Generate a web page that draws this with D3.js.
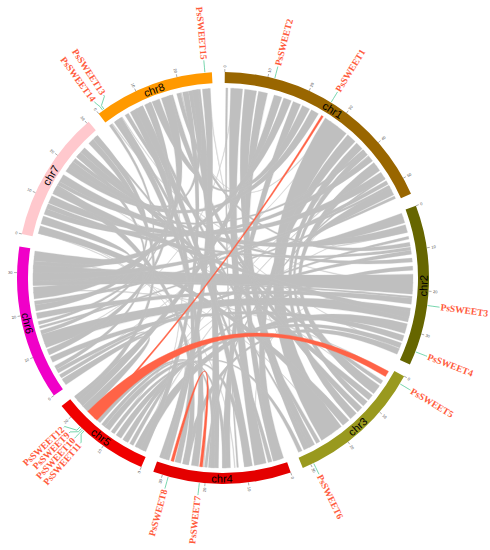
<!DOCTYPE html>
<html><head><meta charset="utf-8">
<script src="https://cdn.jsdelivr.net/npm/d3@7"></script>
<style>body{margin:0;background:#fff}svg{display:block}</style>
</head><body>
<svg id="chart" width="490" height="550"></svg>
<script>
// ---------- data ----------
const chromosomes = ["chr1","chr2","chr3","chr4","chr5","chr6","chr7","chr8"];
const chromLengths = [54, 37.5, 32, 32.2, 23.3, 36, 30.5, 28.1]; // Mb
const chromColors = ["rgb(153,102,0)","rgb(102,102,0)","rgb(153,153,30)","rgb(228,0,0)",
                     "rgb(240,0,0)","rgb(240,0,200)","rgb(255,200,205)","rgb(255,153,0)"];
const tickStep = 10;

const geneNames = ["PsSWEET1","PsSWEET2","PsSWEET3","PsSWEET4","PsSWEET5","PsSWEET6","PsSWEET7","PsSWEET8",
                   "PsSWEET9","PsSWEET10","PsSWEET11","PsSWEET12","PsSWEET13","PsSWEET14","PsSWEET15"];
const geneChrom = [1,1,2,2,3,3,4,4,5,5,5,5,8,8,8];
const genePos   = [25.7,11.6,23.3,34.3,2.0,29.3,21.3,28.6,16.4,16.0,15.6,16.9,1.6,1.2,26.5];

// synteny links: [chrA, startA, endA, chrB, startB, endB]
const grayLinks = [
 [1,0.3,0.8,4,12,12.4],[1,1.5,4.5,4,5,8],[1,5,8,3,27,30],[1,8.5,10.8,4,1,3.2],
 [1,12.5,14.5,5,20,22],[1,15,17,6,31,33],[1,17.5,19.5,4,14,16],[1,20,22,8,12.5,14.5],
 [1,22.5,24.5,7,18,20],[1,26.5,33,3,19,25],[1,33.5,36,4,0.5,3],[1,36.5,38.5,3,14,16],
 [1,39,40.5,3,10,11.5],[1,41,42.5,7,6,7.5],[1,43,45.5,3,5,7.5],[1,46,48,7,9,11],
 [1,48.5,49.5,6,22,23],[1,50,52.5,2,0.5,3],[1,52.8,53.5,6,16,16.6],[1,28,28.3,8,20,20.3],
 [1,44,44.3,5,3,3.3],
 [2,3.5,5.5,7,15,17],[2,6.5,7.2,6,1.5,2.2],[2,8,9,8,19,20],[2,10,11,6,4,5],
 [2,12,13,7,21,22],[2,14,15,5,6,7],[2,16,21,6,27,32],[2,22,23.5,6,18.5,20],
 [2,24.5,28,6,11,14.5],[2,28.5,31,5,1,3.5],[2,31.5,33,6,7,8.5],[2,35,36.5,4,24.5,26],
 [2,18,18.3,8,1,1.3],
 [3,3.5,4.5,8,5,6],[3,8,9.5,7,24,25.5],[3,12,13.5,8,16.5,18],[3,16.5,18.5,7,1,3],
 [3,25.5,26.5,8,9,10],[3,30.5,31.5,5,9.5,10.5],[3,1,1.3,6,25,25.3],[3,28,28.6,7,29,29.6],
 [4,3.5,4.5,8,3,4],[4,9,10.5,5,11,12.5],[4,17,19.5,8,22,25],[4,22,23.8,8,2,3.8],
 [4,24.5,26,7,12,14],[4,26.5,28,8,6.5,8.5],[4,29.5,31.8,8,25.5,27.5],[4,19.8,20.5,1,47.5,48],
 [5,4,5,4,30,31],[5,7.5,9,2,33.5,34.8],[5,12.5,13.5,4,18,19],[5,18,20,6,0.5,2],
 [5,21.5,23,7,27,28.5],
 [6,9,10.5,8,10.5,12],[6,14.5,15.5,8,0.3,1],[6,20.5,22,7,28.5,30],[6,23.5,26.5,8,15,17.5],
 [6,33,35.5,7,3.5,5.5],[6,5,6,7,22.5,23.5],
 [7,7.5,8.8,2,9.2,10],[7,19.5,21,8,23,24.5],
 [8,8,10,4,8.5,10.5],[8,20.5,22,5,0.5,2],[7,11.5,13.5,2,25.5,27],[7,14,15,1,38.8,39.5],
 [6,28,30,1,49.8,50.5],[6,26.8,28,2,21.5,22],
 [7,22.5,24,8,1.8,3],[5,14,15,4,15,16],[5,5.5,6.5,4,31,32],[6,2.5,3.5,5,22.5,23.2],
 [1,51,51.3,2,5,5.3],[8,11.5,12.3,6,17,17.8],
 [1,30,30.2,6,3,3.2],[2,1.5,1.7,5,12,12.2],[3,20,20.2,8,27,27.2],[4,12.8,13,7,1,1.2],
 [5,2,2.2,8,11,11.2],[6,12,12.2,1,2,2.2],[7,16.5,16.7,3,5.5,5.7],[8,4,4.2,2,35,35.2],
 [3,22,22.2,6,34,34.2],[4,6,6.2,2,20,20.2],[5,10,10.2,1,40.8,41],[7,2,2.2,4,20.6,20.8]
];
const redLinks = [
 [1,25.4,25.9,5,15.5,16.0],
 [3,0.8,2.3,5,15.0,18.2],
 [4,21.0,21.7,4,28.3,29.0]
];

// ---------- layout ----------
const W = 490, H = 550, cx = 223, cy = 278;
const rOuter = 206, rInner = 195, rLink = 190;
const gapDeg = 3.6, startDeg = 0.5;
const totalLen = d3.sum(chromLengths);
const degPerMb = (360 - gapDeg * chromosomes.length) / totalLen;
const toRad = Math.PI / 180;

const chromStart = [];
{ let a = startDeg; chromLengths.forEach((L,i)=>{ chromStart.push(a); a += L*degPerMb + gapDeg; }); }
const chromScales = chromLengths.map((L,i)=> d3.scaleLinear().domain([0,L]).range([chromStart[i], chromStart[i]+L*degPerMb]));
const angDeg = (c,p) => chromScales[c-1](p);
const angRad = (c,p) => angDeg(c,p) * toRad;

const svg = d3.select("#chart");
const g = svg.append("g").attr("transform", `translate(${cx},${cy})`);

// links
const ribbon = d3.ribbon().radius(rLink);
function linkDatum(l){
  return { source:{startAngle:angRad(l[0],l[1]), endAngle:angRad(l[0],l[2])},
           target:{startAngle:angRad(l[3],l[4]), endAngle:angRad(l[3],l[5])} };
}
const thin = l => (l[2]-l[1]) < 0.5;
g.append("g").selectAll("path").data(grayLinks.filter(thin)).join("path")
  .attr("d", d=>ribbon(linkDatum(d)))
  .attr("fill","#d2d2d2").attr("stroke","#d2d2d2").attr("stroke-width",0.4);
g.append("g").selectAll("path").data(grayLinks.filter(l=>!thin(l))).join("path")
  .attr("d", d=>ribbon(linkDatum(d)))
  .attr("fill","#bfbfbf").attr("stroke","#c4c4c4").attr("stroke-width",0.3);
g.append("g").selectAll("path").data(redLinks).join("path")
  .attr("d", d=>ribbon(linkDatum(d)))
  .attr("fill","#ff6347").attr("stroke","#ff6347").attr("stroke-width",0.4);

// ideogram
const arc = d3.arc().innerRadius(rInner).outerRadius(rOuter);
const ideo = g.append("g").selectAll("g").data(chromosomes).join("g");
ideo.append("path")
  .attr("d",(d,i)=>arc({startAngle:chromScales[i](0)*toRad, endAngle:chromScales[i](chromLengths[i])*toRad}))
  .attr("fill",(d,i)=>chromColors[i]);
ideo.append("text")
  .attr("transform",(d,i)=>{
    const a = chromScales[i](chromLengths[i]/2);
    const r = (rInner+rOuter)/2;
    const x = r*Math.sin(a*toRad), y = -r*Math.cos(a*toRad);
    const rot = (a>90 && a<270) ? a-180 : (a>180 ? a-360 : a);
    return `translate(${x},${y}) rotate(${rot})`;
  })
  .attr("text-anchor","middle").attr("dominant-baseline","central")
  .attr("font-family","Liberation Sans, Arial, sans-serif").attr("font-size",11)
  .attr("fill","#000").text(d=>d);

// ticks
const ticks = [];
chromLengths.forEach((L,i)=>{ d3.range(0, L+0.001, tickStep).forEach(v=>ticks.push({c:i+1,v})); });
const tg = g.append("g").selectAll("g").data(ticks).join("g")
  .attr("transform", d=>`rotate(${angDeg(d.c,d.v)-90})`);
tg.append("line").attr("x1",rOuter).attr("x2",rOuter+3).attr("stroke","#666").attr("stroke-width",0.5);
tg.append("text")
  .attr("transform", d=>{ const a=angDeg(d.c,d.v); return a>180 ? `translate(${rOuter+4.5},0) rotate(180)` : `translate(${rOuter+4.5},0)`; })
  .attr("text-anchor", d=> angDeg(d.c,d.v)>180 ? "end":"start")
  .attr("dominant-baseline","central")
  .attr("font-family","Liberation Sans, Arial, sans-serif").attr("font-size",4).attr("fill","#555")
  .text(d=>d.v);

// gene labels with simple spreading of crowded labels
const genes = geneNames.map((n,i)=>({name:n, a:angDeg(geneChrom[i], genePos[i])}));
const sorted = genes.slice().sort((p,q)=>p.a-q.a);
const minSep = 1.6;
let clusters = [];
sorted.forEach(gn=>{
  const last = clusters[clusters.length-1];
  if (last && gn.a - last[last.length-1].a < minSep) last.push(gn); else clusters.push([gn]);
});
clusters.forEach(cl=>{
  const mean = d3.mean(cl, d=>d.a);
  const sep = cl.length>2 ? 2.0 : 3.0;
  cl.forEach((gn,k)=>{ gn.la = mean + (cl.length>1 ? 0.8 : 0) + (k - (cl.length-1)/2)*sep; });
});
const lg = g.append("g").selectAll("g").data(genes).join("g");
const pt = (a,r)=>[r*Math.sin(a*toRad), -r*Math.cos(a*toRad)];
lg.append("path")
  .attr("d", d=>{
    const p0=pt(d.a,rOuter+0.5), p1=pt(d.a,rOuter+5), p2=pt(d.la,rOuter+11), p3=pt(d.la,rOuter+12.5);
    return `M${p0}L${p1}L${p2}L${p3}`;
  })
  .attr("fill","none").attr("stroke","#55cc99").attr("stroke-width",0.8);
lg.append("text")
  .attr("transform", d=> d.la>180 ? `rotate(${d.la-90}) translate(${rOuter+13.5},0) rotate(180)` : `rotate(${d.la-90}) translate(${rOuter+13.5},0)`)
  .attr("text-anchor", d=> d.la>180 ? "end":"start")
  .attr("dominant-baseline","central")
  .attr("font-family","Liberation Serif, Times New Roman, serif").attr("font-weight","bold")
  .attr("font-size",9.5).attr("fill","#ff5a3c")
  .text(d=>d.name);
</script>
</body></html>
